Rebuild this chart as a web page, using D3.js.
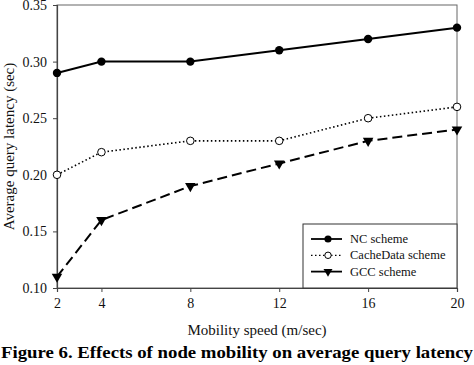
<!DOCTYPE html>
<html><head><meta charset="utf-8">
<script src="https://cdn.jsdelivr.net/npm/d3@7"></script>
<style>body{margin:0;background:#fff}svg{display:block}svg text{font-family:"Liberation Serif","Times New Roman",Times,serif}</style>
</head><body>
<script>
const speeds = [2, 4, 8, 12, 16, 20];
const ncValues = [0.29, 0.30, 0.30, 0.31, 0.32, 0.33];
const cacheDataValues = [0.20, 0.22, 0.23, 0.23, 0.25, 0.26];
const gccValues = [0.11, 0.16, 0.19, 0.21, 0.23, 0.24];
const yTicks = [0.10, 0.15, 0.20, 0.25, 0.30, 0.35];
const seriesNames = ["NC scheme", "CacheData scheme", "GCC scheme"];

const W = 474, H = 365;
const m = {l: 57, r: 17, t: 5, b: 77};
const svg = d3.select("body").append("svg").attr("width", W).attr("height", H);
const x = d3.scaleLinear().domain([2, 20]).range([m.l, W - m.r]);
const y = d3.scaleLinear().domain([0.10, 0.35]).range([H - m.b, m.t]);

svg.append("rect").attr("x", x(2)).attr("y", y(0.35)).attr("width", x(20) - x(2)).attr("height", y(0.10) - y(0.35))
  .attr("fill", "none").attr("stroke", "#666").attr("stroke-width", 1);

const xAxis = svg.append("g").attr("transform", `translate(0,${y(0.10)})`)
  .call(d3.axisBottom(x).tickValues(speeds).tickSize(4).tickPadding(6).tickFormat(d3.format("d")));
const yAxis = svg.append("g").attr("transform", `translate(${x(2)},0)`)
  .call(d3.axisLeft(y).tickValues(yTicks).tickSize(4).tickPadding(6).tickFormat(d3.format(".2f")));
[xAxis, yAxis].forEach(a => {
  a.attr("font-family", null);
  a.select(".domain").attr("stroke", "#444").attr("stroke-width", 1.2);
  a.selectAll(".tick line").attr("stroke", "#444");
  a.selectAll("text").style("font-size", "14px").attr("fill", "#111");
});

const line = d3.line().x((d, i) => x(speeds[i])).y(d => y(d));
const series = [
  {name: seriesNames[0], vals: ncValues, dash: null, marker: "circleFilled"},
  {name: seriesNames[1], vals: cacheDataValues, dash: "1.5,2.5", marker: "circleOpen"},
  {name: seriesNames[2], vals: gccValues, dash: "10,5", marker: "triangle"}
];
const tri = d3.symbol().type(d3.symbolTriangle).size(48);
function drawMarker(g, cx, cy, type, k = 1) {
  if (type === "circleFilled") g.append("circle").attr("cx", cx).attr("cy", cy).attr("r", 4.2 * k).attr("fill", "#000");
  else if (type === "circleOpen") g.append("circle").attr("cx", cx).attr("cy", cy).attr("r", 3.8 * k).attr("fill", "#fff").attr("stroke", "#000").attr("stroke-width", 1);
  else g.append("path").attr("d", tri).attr("transform", `translate(${cx},${cy}) rotate(180) scale(${k})`).attr("fill", "#000");
}
series.forEach(s => {
  svg.append("path").attr("d", line(s.vals)).attr("fill", "none").attr("stroke", "#000")
    .attr("stroke-width", s.marker === "circleOpen" ? 1.6 : 2).attr("stroke-dasharray", s.dash);
  const g = svg.append("g");
  s.vals.forEach((v, i) => drawMarker(g, x(speeds[i]), y(v), s.marker));
});

const lx = 303, ly = 224, lw = x(20) - lx, lh = y(0.10) - ly;
svg.append("rect").attr("x", lx).attr("y", ly).attr("width", lw).attr("height", lh)
  .attr("fill", "#fff").attr("stroke", "#333").attr("stroke-width", 1);
series.forEach((s, i) => {
  const cy = 239 + i * 16.3;
  svg.append("line").attr("x1", 311).attr("x2", 342).attr("y1", cy).attr("y2", cy)
    .attr("stroke", "#000").attr("stroke-width", s.marker === "circleOpen" ? 1.3 : 1.8).attr("stroke-dasharray", s.marker === "circleOpen" ? "1.5,2.5" : null);
  drawMarker(svg, 328, cy, s.marker, 0.85);
  svg.append("text").attr("x", 350).attr("y", cy + 4).text(s.name)
    .style("font-size", "12.5px").attr("fill", "#111");
});

svg.append("text").attr("x", (x(2) + x(20)) / 2).attr("y", 335).attr("text-anchor", "middle")
  .style("font-size", "15px").attr("fill", "#111").text("Mobility speed (m/sec)");
svg.append("text").attr("transform", `translate(14,${(y(0.10) + y(0.35)) / 2}) rotate(-90)`).attr("text-anchor", "middle")
  .style("font-size", "15px").attr("fill", "#111").text("Average query latency (sec)");
svg.append("text").attr("x", 1).attr("y", 358).attr("textLength", 472).attr("lengthAdjust", "spacingAndGlyphs")
  .style("font-size", "17px").style("font-weight", "bold").attr("fill", "#000")
  .text("Figure 6. Effects of node mobility on average query latency");
</script>
</body></html>
